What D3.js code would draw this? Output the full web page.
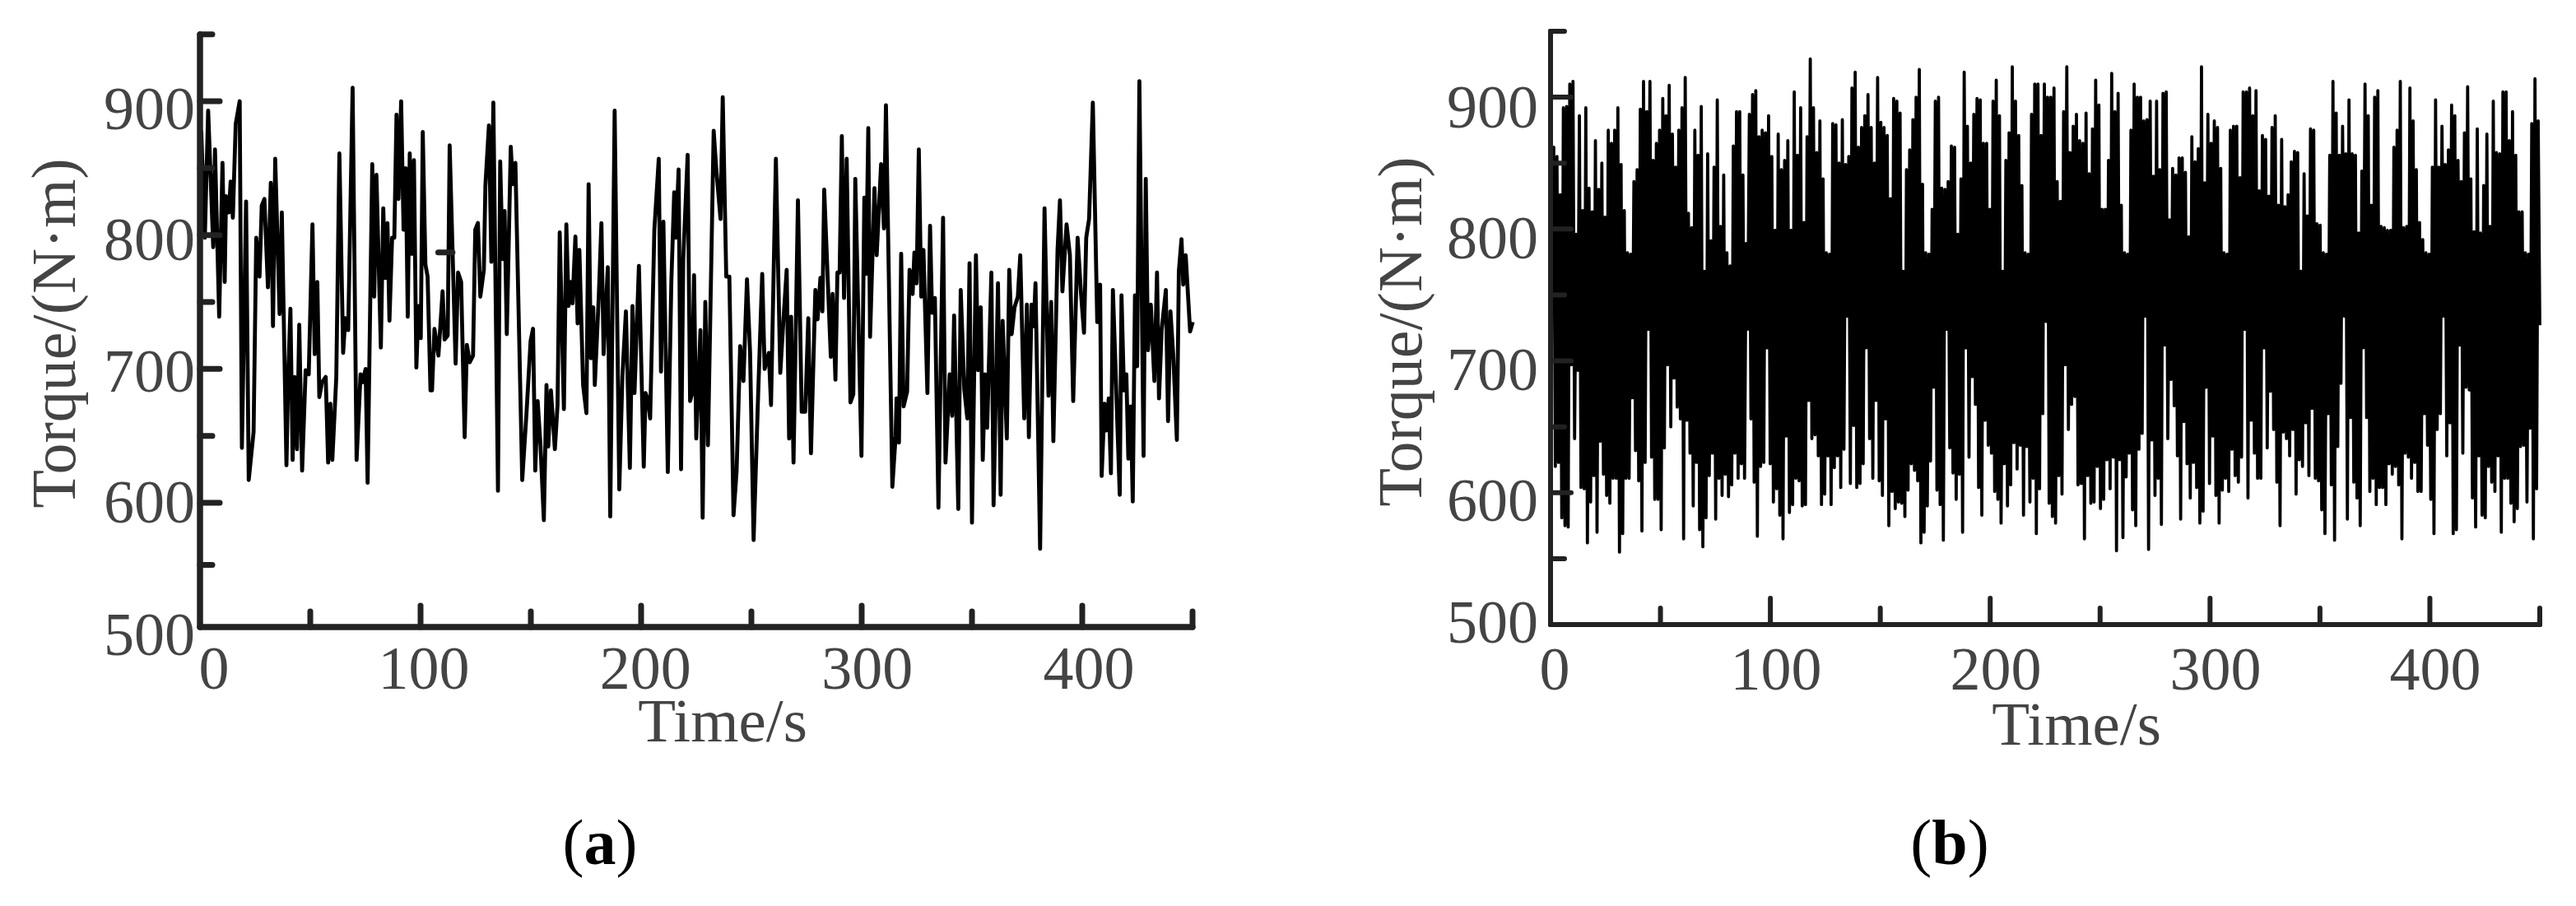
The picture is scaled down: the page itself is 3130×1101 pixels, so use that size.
<!DOCTYPE html>
<html>
<head>
<meta charset="utf-8">
<script src="https://cdn.jsdelivr.net/npm/d3@7"></script>
<style>
  html, body { margin: 0; padding: 0; background: #fff; }
  svg { display: block; }
</style>
</head>
<body>
<div id="chart"></div>
<script>
// Tick values and labels
const xMajor = [100, 200, 300, 400];
const xMinor = [50, 150, 250, 350, 450];
const xLabels = [0, 100, 200, 300, 400];
const yMajor = [600, 700, 800, 900];
const yMinor = [550, 650, 750, 850, 950];
const yLabels = [500, 600, 700, 800, 900];
const xTitle = "Time/s";
const yTitle = "Torque/(N·m)";

// Panel (a): turning points
const timeA = [0,0.6,2.2,3.7,6.0,6.8,8.7,10.2,11.2,11.8,13.1,13.9,14.9,16.2,18.0,19.0,20.9,22.1,24.3,25.5,27.0,28.0,29.2,30.8,32.1,33.1,34.1,36.1,37.1,39.2,40.0,41.0,42.0,42.9,44.0,45.0,46.3,47.9,49.3,51.0,52.0,53.2,54.1,55.3,57.0,58.1,59.1,60.0,61.8,63.2,64.9,65.9,67.2,69.2,71.0,72.8,73.6,75.1,76.0,78.1,79.0,80.0,82.0,83.1,84.0,85.0,85.9,87.1,88.1,89.1,90.0,91.2,92.3,93.3,94.2,95.1,96.0,97.0,98.1,99.1,100.1,101.0,102.2,103.2,104.5,105.2,106.3,108.1,110.0,110.9,112.3,113.2,115.9,117.0,118.4,120.0,121.0,122.3,123.8,124.8,126.0,127.1,128.7,129.4,131.0,132.1,133.0,135.1,136.1,137.2,138.1,139.1,140.9,141.8,143.0,146.1,148.0,149.9,151.0,152.0,
  153.1,154.4,155.9,157.1,157.9,159.1,160.9,162.1,163.1,165.0,166.1,167.1,168.1,168.9,170.2,171.2,172.0,173.7,175.2,176.2,177.2,178.3,179.0,180.8,182.0,183.0,184.9,186.0,188.0,190.1,191.5,193.1,194.9,196.1,197.0,199.0,201.2,202.0,203.1,204.1,206.0,208.0,209.0,210.1,212.1,213.7,215.0,215.8,217.0,218.1,219.1,221.1,222.2,223.0,224.0,225.0,226.9,227.9,229.1,230.3,232.9,234.0,236.0,237.0,238.6,240.0,241.9,243.3,244.9,246.4,248.0,249.4,251.0,252.9,254.9,256.0,257.9,258.9,261.1,263.1,264.5,266.0,267.1,268.0,269.1,271.1,272.8,274.4,275.8,277.0,279.0,280.0,281.3,282.2,283.0,286.0,286.8,288.1,289.0,290.0,291.0,292.0,293.2,294.9,296.2,297.1,299.9,301.2,302.0,303.0,
  303.8,305.8,306.8,308.8,310.1,311.0,313.9,315.4,315.8,316.9,317.9,319.0,320.6,321.7,323.1,323.9,324.9,325.9,327.0,328.0,329.8,331.0,331.9,333.2,334.8,336.9,338.0,339.9,341.0,341.9,343.8,344.9,346.5,347.9,348.9,350.0,351.8,352.8,354.0,354.9,355.9,356.9,358.8,359.8,361.8,363.0,363.9,365.8,366.9,368.0,369.3,370.8,371.9,373.7,374.9,375.8,377.0,378.0,378.8,380.9,382.9,384.7,385.9,386.9,388.8,389.9,391.0,392.9,394.4,395.9,397.9,399.4,400.8,401.8,403.1,404.8,406.8,408.1,408.8,410.1,411.0,412.0,413.0,413.9,417.0,417.8,418.9,420.0,420.9,422.0,422.9,423.9,424.9,425.9,427.8,428.8,429.8,431.1,432.7,433.9,434.8,436.0,437.9,438.9,440.0,441.3,442.9,443.8,445.0,445.8,446.9,448.9,450.1];
const torqueA = [800,877,798,893,791,864,739,854,765,829,817,840,813,883,900,641,825,617,653,798,769,822,827,761,839,732,857,741,817,628,694,745,632,694,640,733,624,699,696,808,711,765,679,690,694,630,674,632,694,861,712,738,729,910,632,696,690,700,615,853,754,845,716,820,768,809,736,798,798,890,827,900,804,850,739,861,786,856,701,747,723,877,778,769,684,684,730,710,758,722,725,867,704,772,765,649,718,705,710,804,809,754,774,837,882,780,899,609,855,782,818,726,866,838,854,617,666,721,730,624,
  676,642,586,688,642,684,640,673,802,670,808,747,765,749,799,734,789,688,667,838,708,746,688,754,809,711,776,589,893,610,694,743,626,747,682,777,627,682,677,663,804,857,698,810,623,765,832,798,849,625,782,860,676,681,770,648,729,588,750,643,878,851,812,903,769,769,590,624,717,691,767,712,570,673,771,700,712,673,857,697,736,774,648,739,630,826,668,668,738,637,759,737,768,743,834,709,756,692,772,772,874,753,857,675,681,842,635,828,771,880,
  724,835,785,853,805,897,612,650,678,645,786,672,683,774,756,787,764,864,754,789,682,807,742,753,596,813,630,696,665,740,595,759,685,663,779,584,785,699,746,632,696,656,772,598,764,606,736,648,774,726,746,754,785,663,748,649,748,732,764,563,820,680,750,646,789,826,758,808,785,676,798,757,727,798,812,899,735,763,620,674,654,678,622,759,606,755,684,696,633,672,601,755,702,915,635,842,714,748,691,772,678,729,759,661,743,709,647,773,797,763,785,728,735];
// short stray dash in panel (a)
const strayTimeA = [108, 114.5];
const strayTorqueA = [787, 787];

// Panel (b): the curve swings between an upper and a lower value on each cycle
const highsB = [877,862,855,826,892,893,910,912,796,886,814,892,831,813,867,830,850,809,875,865,875,892,849,814,782,781,836,845,891,912,889,912,852,865,875,899,886,909,872,847,875,892,915,812,801,875,856,893,768,857,791,847,898,802,841,782,772,863,889,889,841,789,887,902,905,870,875,873,886,855,799,872,845,852,867,799,904,856,892,805,870,929,892,858,882,838,782,781,880,879,850,883,849,855,907,919,862,877,886,902,877,850,915,881,877,871,823,899,897,888,768,845,860,883,900,921,834,782,781,815,897,900,831,830,836,863,862,796,838,919,878,850,887,899,898,865,865,815,897,913,886,768,852,873,923,897,871,833,782,781,887,910,910,
  871,910,900,900,907,836,821,889,923,858,878,887,867,865,888,842,876,913,894,815,815,852,918,889,903,818,782,781,875,910,900,900,882,883,897,840,897,845,903,904,807,846,841,854,854,843,794,870,851,861,923,835,887,865,882,877,846,782,781,875,878,878,839,904,904,907,886,905,829,871,868,825,877,886,818,868,817,826,851,859,858,768,842,810,876,875,804,803,782,781,856,912,888,856,878,857,898,857,856,797,844,910,886,818,900,905,802,801,799,799,862,875,912,801,802,907,882,845,805,792,782,781,847,898,847,878,849,860,894,886,852,836,873,908,838,798,876,797,833,872,802,897,858,857,904,904,867,889,856,813,813,782,781,880,914,882,882,847];
const lowsB = [734,620,623,581,575,574,697,641,693,604,603,562,593,613,570,639,614,598,592,611,611,555,569,611,611,672,632,609,571,623,724,627,595,595,572,634,697,650,687,665,656,565,655,630,590,623,572,559,581,613,630,580,611,598,614,597,606,630,611,622,611,724,656,608,567,620,623,710,622,593,603,583,565,643,585,591,611,609,590,591,670,641,644,628,591,599,628,591,619,628,604,633,734,607,651,604,607,622,710,641,611,670,609,598,656,575,601,588,593,592,582,602,622,617,609,562,570,590,624,680,602,591,564,724,634,615,595,614,570,710,627,688,667,604,583,655,636,630,601,595,577,622,590,606,638,618,636,583,635,593,611,569,
  603,660,730,592,582,577,613,599,697,648,667,673,606,607,565,613,592,593,620,588,595,625,603,627,556,625,566,612,630,587,575,633,645,734,557,640,598,611,576,712,641,686,666,628,580,654,622,596,623,604,577,586,680,607,643,598,577,602,611,601,633,613,608,627,724,596,655,630,611,611,710,634,677,648,608,575,646,641,628,648,599,625,620,653,613,664,611,609,587,569,660,606,564,635,683,734,580,657,608,596,575,710,657,601,611,591,604,604,591,622,614,620,606,565,630,627,611,623,601,601,660,636,595,569,648,660,734,628,653,569,572,712,630,680,678,596,574,628,583,581,620,608,601,628,570,611,611,592,578,588,635,636,593,649,565,603,727];

// Interleave highs and lows into one line; samples are evenly spaced in time
const cyclesB = d3.min([highsB.length, lowsB.length]);
const torqueB = d3.merge(d3.range(cyclesB).map(i => [highsB[i], lowsB[i]]));
const timeB = d3.range(torqueB.length).map(i => i * 450 / (torqueB.length - 1));

const width = 3130, height = 1101;
const svg = d3.select("#chart").append("svg")
    .attr("width", width)
    .attr("height", height)
    .attr("viewBox", [0, 0, width, height])
    .attr("font-family", "'Liberation Serif', 'Times New Roman', serif");

function panel(X, Y, {
  x, y,               // position scales
  xLabelAt, yLabelAt, // the printed numbers sit a little off their ticks
  xLabelY, yLabelX,
  axisWidth, lineWidth,
  yTickLong, yTickShort, xTickLong, xTickShort,
  yTitleX, yTitleY, xTitleX, xTitleY,
  tag, tagX
}) {
  const g = svg.append("g");
  const line = d3.line().x(i => x(X[i])).y(i => y(Y[i]));

  g.append("path")
      .attr("fill", "none")
      .attr("stroke", "#000")
      .attr("stroke-width", lineWidth)
      .attr("stroke-linejoin", "round")
      .attr("d", line(d3.range(X.length)));

  const axes = [
    d3.axisBottom(x).tickValues(xMajor).tickSize(-xTickLong),
    d3.axisBottom(x).tickValues(xMinor).tickSize(-xTickShort)
  ].map(a => [a, `translate(0,${y.range()[0]})`]).concat([
    d3.axisLeft(y).tickValues(yMajor).tickSize(-yTickLong),
    d3.axisLeft(y).tickValues(yMinor).tickSize(-yTickShort)
  ].map(a => [a, `translate(${x.range()[0]},0)`]));

  axes.forEach(([axis, transform]) => {
    const a = g.append("g")
        .attr("transform", transform)
        .call(axis.offset(0).tickSizeOuter(0).tickFormat(""));
    a.selectAll("path, line")
        .attr("stroke", "#222")
        .attr("stroke-width", axisWidth)
        .attr("stroke-linecap", "round");
  });

  g.append("g")
      .attr("fill", "#444")
      .attr("font-size", 74)
      .attr("text-anchor", "middle")
    .selectAll("text")
    .data(xLabels)
    .join("text")
      .attr("x", xLabelAt)
      .attr("y", xLabelY)
      .text(d => d);

  g.append("g")
      .attr("fill", "#444")
      .attr("font-size", 74)
      .attr("text-anchor", "end")
    .selectAll("text")
    .data(yLabels)
    .join("text")
      .attr("x", yLabelX)
      .attr("y", yLabelAt)
      .text(d => d);

  g.append("text")
      .attr("fill", "#444")
      .attr("font-size", 75)
      .attr("text-anchor", "middle")
      .attr("x", xTitleX)
      .attr("y", xTitleY)
      .text(xTitle);

  g.append("text")
      .attr("fill", "#444")
      .attr("font-size", 76)
      .attr("text-anchor", "middle")
      .attr("transform", `translate(${yTitleX},${yTitleY}) rotate(-90)`)
      .text(yTitle);

  const t = g.append("text")
      .attr("fill", "#000")
      .attr("font-size", 78)
      .attr("text-anchor", "middle")
      .attr("x", tagX)
      .attr("y", 1050);
  t.append("tspan").text("(");
  t.append("tspan").attr("font-weight", "bold").text(tag);
  t.append("tspan").text(")");

  return {g, line};
}

const a = panel(timeA, torqueA, {
  x: d3.scaleLinear([0, 450], [243, 1449]),
  y: d3.scaleLinear([500, 600, 950], [762, 611, 41.7]),
  xLabelAt: d3.scaleLinear([0, 100, 400], [260, 515, 1323]),
  yLabelAt: d3.scaleLinear([500, 600, 900], [796, 635, 157]),
  xLabelY: 837, yLabelX: 237,
  axisWidth: 7, lineWidth: 4.8,
  yTickLong: 24, yTickShort: 15, xTickLong: 26, xTickShort: 19,
  yTitleX: 91, yTitleY: 405, xTitleX: 878, xTitleY: 901,
  tag: "a", tagX: 729
});

panel(timeB, torqueB, {
  x: d3.scaleLinear([0, 450], [1884, 3086]),
  y: d3.scaleLinear([500, 950], [759, 38]),
  xLabelAt: d3.scaleLinear([0, 100, 400], [1889, 2158, 2959]),
  yLabelAt: d3.scaleLinear([500, 600, 900], [781, 633, 155]),
  xLabelY: 838, yLabelX: 1869,
  axisWidth: 6, lineWidth: 3.8,
  yTickLong: 25, yTickShort: 17, xTickLong: 32, xTickShort: 20,
  yTitleX: 1727, yTitleY: 403, xTitleX: 2523, xTitleY: 905,
  tag: "b", tagX: 2369
});

// stray dash, sits on top of curve (a)
const strayX = d3.scaleLinear([0, 450], [243, 1449]);
const strayY = d3.scaleLinear([500, 600, 950], [762, 611, 41.7]);
a.g.append("path")
    .attr("fill", "none")
    .attr("stroke", "#222")
    .attr("stroke-width", 7)
    .attr("stroke-linecap", "round")
    .attr("d", d3.line().x(i => strayX(strayTimeA[i])).y(i => strayY(strayTorqueA[i]))([0, 1]));
</script>
</body>
</html>
